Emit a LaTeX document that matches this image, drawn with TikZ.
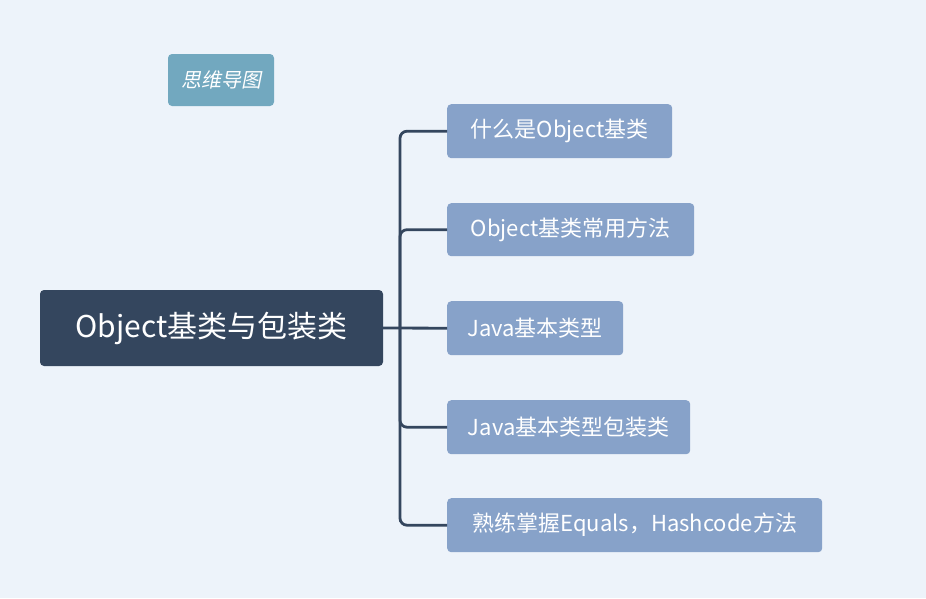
\documentclass[tikz,border=0pt]{standalone}
\usepackage{fontspec}
\setmainfont{Noto Sans CJK SC}
\newfontfamily\slantcjk[FakeSlant=0.2]{Noto Sans CJK SC}
\begin{document}
\begin{tikzpicture}[x=1pt,y=-1pt,
  child/.style={fill=cb,rounded corners=4pt,text=white,font=\fontsize{22}{25}\selectfont,anchor=north west,inner sep=0pt},
  conn/.style={draw=rootc,line width=2.8pt,rounded corners=7pt}]
\definecolor{bg}{HTML}{EDF3FA}
\definecolor{rootc}{HTML}{34465E}
\definecolor{cb}{HTML}{87A2C9}
\definecolor{tagc}{HTML}{72A8BF}
\fill[bg] (0,0) rectangle (926,598);
\useasboundingbox (0,0) rectangle (926,598);
\node[fill=tagc,rounded corners=4pt,text=white,minimum width=106pt,minimum height=52pt,font=\slantcjk\fontsize{20}{23}\selectfont] (tag) at (221,80) {思维导图};
\node[fill=rootc,rounded corners=4pt,text=white,minimum width=343pt,minimum height=76pt,font=\fontsize{30}{34}\selectfont] (root) at (211.5,328) {Object基类与包装类};
\node[child,minimum width=225pt,minimum height=54pt] (c1) at (447,104) {什么是Object基类};
\node[child,minimum width=247pt,minimum height=53pt] (c2) at (447,203) {Object基类常用方法};
\node[child,minimum width=176pt,minimum height=54pt] (c3) at (447,301) {Java基本类型};
\node[child,minimum width=243pt,minimum height=54pt] (c4) at (447,400) {Java基本类型包装类};
\node[child,minimum width=375pt,minimum height=54pt] (c5) at (447,498) {熟练掌握Equals，Hashcode方法};
\coordinate (j) at (400,328);
\draw[conn] (root.east) -- (c3.west);
\foreach \c in {c1,c2,c4,c5} \draw[conn] (j) |- (\c.west);
\end{tikzpicture}
\end{document}
